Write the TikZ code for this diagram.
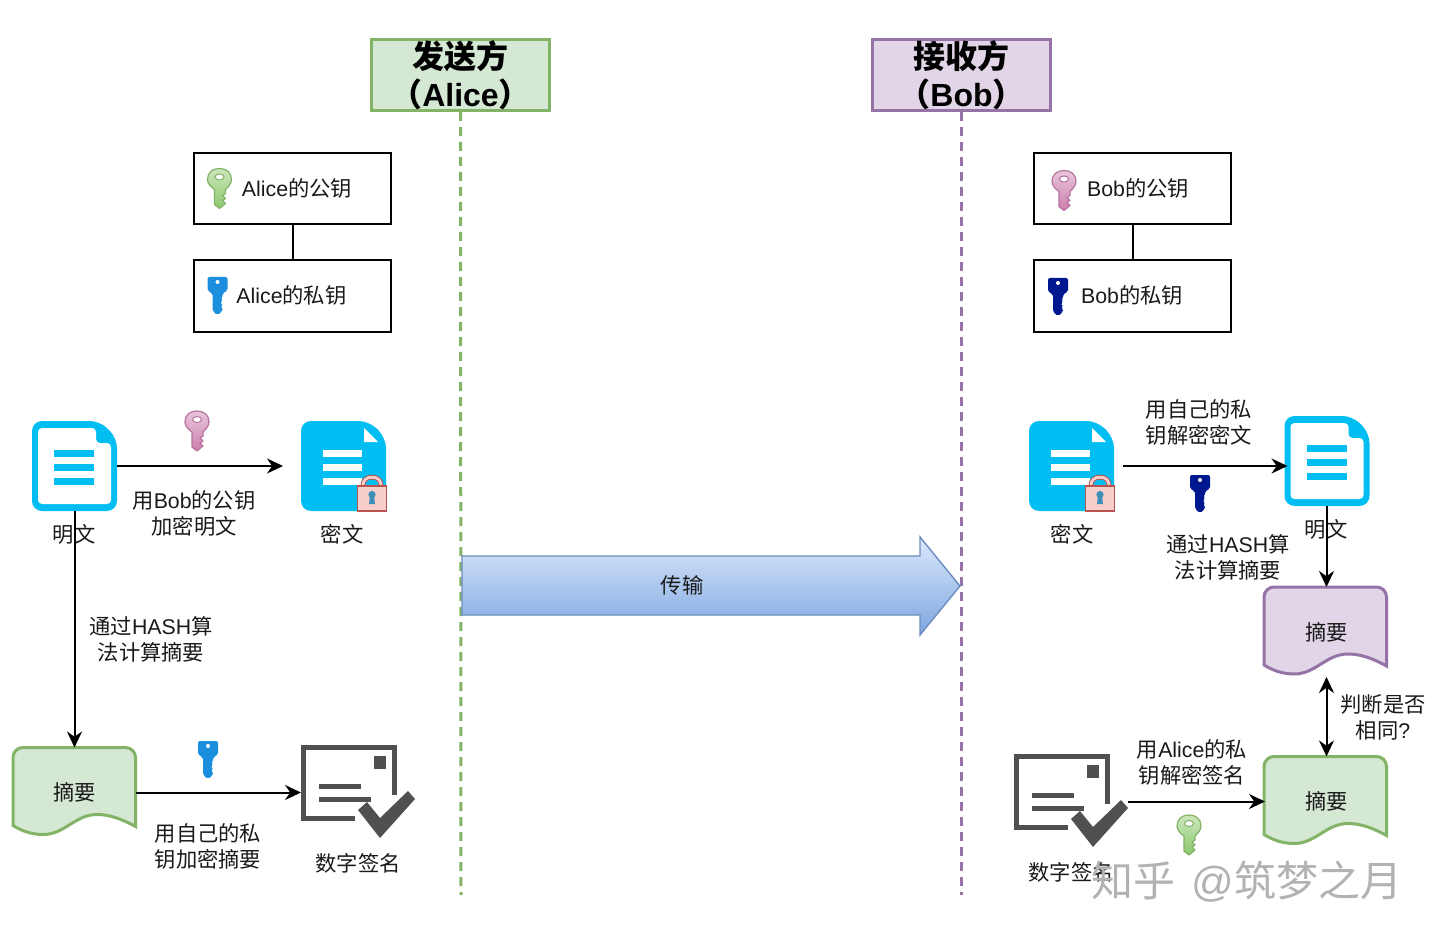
\documentclass[tikz,border=0pt]{standalone}
\usepackage{fontspec}
\setmainfont{Noto Sans CJK SC}
\newfontfamily\lat{Liberation Sans}
\usetikzlibrary{arrows.meta,calc}
\definecolor{cyanD}{HTML}{00BEF2}
\definecolor{inkT}{HTML}{1A1A1A}
\definecolor{greyI}{HTML}{505050}
\definecolor{gFill}{HTML}{D5E8D4}
\definecolor{gLine}{HTML}{82B366}
\definecolor{pFill}{HTML}{E1D5E7}
\definecolor{pLine}{HTML}{9673A6}
\definecolor{lockLine}{HTML}{B85450}
\definecolor{lockFill}{HTML}{F8CECC}
\definecolor{lockHole}{HTML}{3F8FB5}
\definecolor{kGreen}{HTML}{8CC96C}
\definecolor{kGreenL}{HTML}{82B366}
\definecolor{kPink}{HTML}{CC7FAE}
\definecolor{kPinkL}{HTML}{B5739D}
\definecolor{kBlue}{HTML}{1B8FDD}
\definecolor{kNavy}{HTML}{00188F}
\definecolor{arTop}{HTML}{DAE8FC}
\definecolor{arBot}{HTML}{7EA6E0}
\definecolor{arLine}{HTML}{6C8EBF}
\tikzset{
  lbl/.style={inner sep=0pt,align=center,text=inkT,font=\fontsize{10.65}{13}\selectfont},
  header/.style={draw,line width=1.5pt,minimum width=89pt,minimum height=35.5pt,inner sep=0pt,align=center,text=black,font=\fontsize{16}{19}\selectfont\bfseries},
  keybox/.style={draw=black,line width=0.8pt,fill=white,minimum width=98.5pt,minimum height=35.75pt,inner sep=0pt},
  ghost/.style={inner sep=0pt,outer sep=0pt},
  arrowline/.style={draw=black,line width=1pt,-{Stealth[length=8pt,width=7.5pt]}},
  lifeline/.style={line width=1.5pt,dash pattern=on 4.5pt off 3pt},
  plainlink/.style={draw=black,line width=1pt},
  docbox/.style={ghost,minimum width=61.5pt,minimum height=45pt,align=center,text=inkT,font=\fontsize{10.65}{13}\selectfont},
}
% round-headed key: box 24x40
\newcommand\RoundKey[4]{\begin{scope}[shift={(#1,#2)}]
  \path[draw=#4,line width=0.6pt,top color=#3!45!white,bottom color=#3,line join=round]
    (7,21) .. controls (3,18) and (0,15) .. (0,11) .. controls (0,4) and (5,0) .. (12,0)
    .. controls (19,0) and (24,4) .. (24,11) .. controls (24,15) and (21,18) .. (18,21)
    -- (18,25) -- (15,27) -- (18,30) -- (15,32) -- (18,35) -- (12,40) -- (7,36) -- cycle;
  \path[draw=#4,line width=0.5pt,fill=white] (12,8.5) ellipse (4.5 and 3);
\end{scope}}
% square-headed key: box w=20 h=38
\newcommand\SquareKey[3]{\begin{scope}[shift={(#1,#2)}]
  \path[fill=#3,rounded corners=1pt]
    (0,0) -- (20,0) -- (20,14) -- (15,16) -- (15,21) -- (13,23) -- (15,26) -- (13,28) -- (15,31) -- (15,34) -- (10,38) -- (5,34) -- (5,16) -- (0,14) -- cycle;
  \path[fill=white] (10,5) circle (2);
\end{scope}}
% plain document outline
\newcommand\OutlineDoc[2]{\begin{scope}[shift={(#1,#2)}]
  \path[fill=cyanD,rounded corners=5pt] (0,0) -- (68,0) -- (85,17) -- (85,90) -- (0,90) -- cycle;
  \path[fill=white,rounded corners=2pt] (6,7) -- (64,7) -- (64,22) -- (79,22) -- (79,83) -- (6,83) -- cycle;
  \foreach \yy in {29,43,57} \path[fill=cyanD] (22,\yy) rectangle (62,\yy+7);
\end{scope}}
% solid document with lock
\newcommand\SolidDoc[2]{\begin{scope}[shift={(#1,#2)}]
  \path[fill=cyanD,rounded corners=5pt] (0,0) -- (68,0) -- (85,17) -- (85,90) -- (0,90) -- cycle;
  \path[fill=white] (63,7) -- (77,21) -- (63,21) -- cycle;
  \foreach \yy in {29,43,57} \path[fill=white] (22,\yy) rectangle (61,\yy+7);
  \begin{scope}[shift={(56.5,54)}]
    \path[draw=lockLine,line width=2.4pt] (5.5,12) -- (5.5,10.5) .. controls (5.5,5) and (9,2.2) .. (14.5,2.2) .. controls (20,2.2) and (23.5,5) .. (23.5,10.5) -- (23.5,12);
    \path[draw=lockFill,line width=1.4pt] (5.5,12) -- (5.5,10.5) .. controls (5.5,5) and (9,2.2) .. (14.5,2.2) .. controls (20,2.2) and (23.5,5) .. (23.5,10.5) -- (23.5,12);
    \path[draw=lockLine,line width=0.8pt,fill=lockFill] (0,11) rectangle (29,36);
    \path[fill=lockHole] (14.5,19.5) circle (3.6);
    \path[fill=lockHole] (12.5,20) -- (16.5,20) -- (17.5,29) -- (11.5,29) -- cycle;
  \end{scope}
\end{scope}}
% envelope with tick
\newcommand\EnvTick[2]{\begin{scope}[shift={(#1,#2)}]
  \path[draw=greyI,line width=2.5pt] (93.5,50) -- (93.5,2.5) -- (2.5,2.5) -- (2.5,73.5) -- (54,73.5);
  \path[fill=greyI] (73,11) rectangle (85,24);
  \path[fill=greyI] (18,39) rectangle (60,44);
  \path[fill=greyI] (18,52) rectangle (70,57);
  \path[fill=greyI] (57,65) -- (66,57) -- (79,73) -- (107,46) -- (114,54) -- (79,93) -- cycle;
\end{scope}}
% wavy document
\newcommand\WaveDoc[4]{\begin{scope}[shift={(#1,#2)}]
  \path[draw=#4,fill=#3,line width=1.5pt,rounded corners=5pt]
   (0,78) [sharp corners] -- (0,78) [rounded corners=5pt] -- (0,0) -- (122.5,0) [sharp corners] -- (122.5,79)
   .. controls (108,71) and (96,67) .. (84,67) .. controls (62,67) and (52,87) .. (30,87) .. controls (18,87) and (8,83) .. (0,78) -- cycle;
\end{scope}}
\begin{document}
\begin{tikzpicture}[x=0.5pt,y=-0.5pt]
\useasboundingbox (0,0) rectangle (1440,941);
\fill[white] (0,0) rectangle (1440,941);

% headers
\node[header,draw=gLine,fill=gFill] (alice) at (460.5,75) {发送方\\（{\lat\bfseries Alice}）};
\node[header,draw=pLine,fill=pFill] (bob) at (961.5,75) {接收方\\（{\lat\bfseries Bob}）};
\coordinate (aliceend) at (461,895);
\coordinate (bobend) at (961.5,895);
\draw[lifeline,draw=gLine] (alice.south) -- (aliceend);
\draw[lifeline,draw=pLine] (bob.south) -- (bobend);

% key boxes
\node[keybox] (apub) at (292.5,188.5) {};
\node[keybox] (apri) at (292.5,296) {};
\draw[plainlink] (apub.south) -- (apri.north);
\node[keybox] (bpub) at (1132.5,188.5) {};
\node[keybox] (bpri) at (1132.5,296) {};
\draw[plainlink] (bpub.south) -- (bpri.north);
\RoundKey{207.5}{168.5}{kGreen}{kGreenL}
\SquareKey{207.5}{277}{kBlue}
\RoundKey{1052}{170.5}{kPink}{kPinkL}
\SquareKey{1048}{278}{kNavy}
\node[lbl] (apubt) at (297,188.5) {{\lat Alice}的公钥};
\node[lbl] (aprit) at (291.5,295.5) {{\lat Alice}的私钥};
\node[lbl] (bpubt) at (1138,188.5) {{\lat Bob}的公钥};
\node[lbl] (bprit) at (1132,295.5) {{\lat Bob}的私钥};

% left top row
\OutlineDoc{32}{421}
\SolidDoc{301}{421}
\node[ghost,minimum width=42.5pt,minimum height=45pt] (plainA) at (74.5,466) {};
\coordinate (cipherAin) at (283,466);
\draw[arrowline] (plainA.east) -- (cipherAin);
\RoundKey{185}{411}{kPink}{kPinkL}
\node[lbl] (plainAt) at (74,534.5) {明文};
\node[lbl] (encT) at (194,513.5) {用{\lat Bob}的公钥\\加密明文};
\node[lbl] (cipherAt) at (342,534.5) {密文};
\node[lbl] (hashA) at (151,639) {通过{\lat HASH}算\\法计算摘要};

% left bottom row
\WaveDoc{13}{747.5}{gFill}{gLine}
\node[docbox] (sumA) at (74.5,792.5) {摘要};
\draw[arrowline] (plainA.south) -- (sumA.north);
\EnvTick{301}{745}
\node[ghost,minimum width=57pt,minimum height=46.5pt] (envA) at (358,792.5) {};
\draw[arrowline] (sumA.east) -- (envA.west);
\SquareKey{198}{741}{kBlue}
\node[lbl] (signT) at (208,846.5) {用自己的私\\钥加密摘要};
\node[lbl] (envAt) at (358,863.5) {数字签名};

% transfer arrow
\path[draw=arLine,line width=0.7pt,top color=arTop,bottom color=arBot]
  (462,556) -- (920,556) -- (920,537) -- (960,586) -- (920,635) -- (920,615) -- (462,615) -- cycle;
\node[lbl] (transferT) at (682,585.5) {传输};

% right top row
\SolidDoc{1029}{421}
\OutlineDoc{1284.5}{416}
\node[ghost,minimum width=42.5pt,minimum height=45pt] (plainB) at (1326.5,460.5) {};
\coordinate (cipherBout) at (1123,466);
\coordinate (plainBin) at ($(plainB.west)+(3.5,5.5)$);
\draw[arrowline] (cipherBout) -- (plainBin);
\SquareKey{1190}{475}{kNavy}
\node[lbl] (decT) at (1199,422.5) {用自己的私\\钥解密密文};
\node[lbl] (cipherBt) at (1072,534.5) {密文};
\node[lbl] (hashB) at (1228,557) {通过{\lat HASH}算\\法计算摘要};
\node[lbl] (plainBt) at (1326,529.5) {明文};

% right stack
\WaveDoc{1264}{587}{pFill}{pLine}
\node[docbox] (sumB) at (1326.5,632) {摘要};
\draw[arrowline] (plainB.south) -- (sumB.north);
\WaveDoc{1264}{756.5}{gFill}{gLine}
\node[docbox] (sumC) at (1326.5,801.5) {摘要};
\draw[draw=black,line width=1pt,{Stealth[length=8pt,width=7.5pt]}-{Stealth[length=8pt,width=7.5pt]}] (sumB.south) -- (sumC.north);
\node[lbl] (cmpT) at (1383,717.5) {判断是否\\相同{\lat ?}};

% right bottom
\EnvTick{1014}{754}
\node[ghost,minimum width=57pt,minimum height=46.5pt] (envB) at (1071,801.5) {};
\draw[arrowline] (envB.east) -- (sumC.west);
\RoundKey{1177}{815}{kGreen}{kGreenL}
\node[lbl] (verT) at (1192,762.5) {用{\lat Alice}的私\\钥解密签名};
\node[lbl] (envBt) at (1071,872.5) {数字签名};

% watermark
\node[inner sep=0pt,text=black!30,font=\fontsize{21}{24}\selectfont] (wm) at (1247,882) {知乎\hspace{3pt} {\lat @}筑梦之月};
\end{tikzpicture}
\end{document}
